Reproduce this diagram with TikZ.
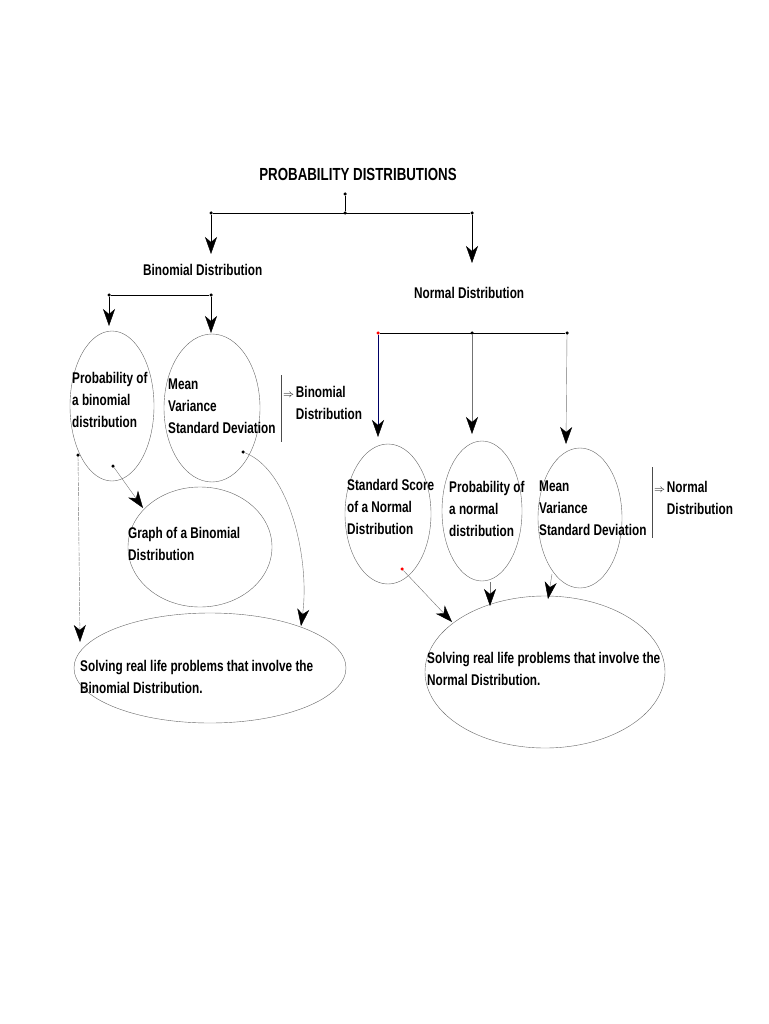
\documentclass[tikz,border=0pt]{standalone}
\usepackage{fontspec}
\setmainfont{Liberation Sans}[FakeStretch=0.76]
\usetikzlibrary{arrows.meta}
\begin{document}
\begin{tikzpicture}[x=1pt,y=-1pt,
  txt/.style={font=\bfseries\fontsize{15.5}{22}\selectfont,align=left,anchor=west,inner sep=0pt},
  arr/.style={-{Stealth[length=17pt,width=12pt,inset=5pt,color=black]}},
  thinarr/.style={draw=black!55,-{Stealth[length=17pt,width=12pt,inset=5pt,color=black]}},
  dot/.style={circle,fill=black,inner sep=0pt,minimum size=3.5pt},
  rdot/.style={circle,fill=red,inner sep=0pt,minimum size=3.5pt}]
\useasboundingbox (0,0) rectangle (768,1024);
\node[font=\bfseries\fontsize{17.5}{20}\selectfont] (title) at (358,174) {PROBABILITY DISTRIBUTIONS};
\node[dot] (t0) at (345,194) {}; \node[dot] (t1) at (345,213) {};
\node[dot] (tl) at (211,213) {}; \node[dot] (tr) at (472,213) {};
\draw (t0)--(t1); \draw (tl)--(tr);
\coordinate (bd_a) at (211,254); \coordinate (nd_a) at (472,263);
\draw[arr] (tl)--(bd_a); \draw[arr] (tr)--(nd_a);
\node[txt] (bd) at (143,270) {Binomial Distribution};
\node[txt] (nd) at (414,293) {Normal Distribution};
% binomial branch
\node[dot] (bl) at (109,295) {}; \node[dot] (br) at (211,295) {};
\draw (bl)--(br);
\coordinate (pb_a) at (109,326); \coordinate (mb_a) at (211,333);
\draw[arr] (bl)--(pb_a); \draw[arr] (br)--(mb_a);
\draw[black!60] (112,406) ellipse (42 and 75);
\node[txt] (pb) at (72,400) {Probability of\\a binomial\\distribution};
\draw[black!60] (212,408) ellipse (48 and 74);
\node[txt] (mb) at (168,406) {Mean\\Variance\\Standard Deviation};
\draw[black!70] (281,375)--(281,442);
\node[txt] (bdx) at (283,403) {\fontsize{11}{12}\selectfont$\Rightarrow$\,\fontsize{15.5}{22}\selectfont\parbox[t]{70pt}{Binomial\\Distribution}};
\draw[black!60] (200,547) ellipse (72 and 60);
\node[txt] (gb) at (128,544) {Graph of a Binomial\\Distribution};
\draw[black!60] (210,668) ellipse (136 and 55);
\node[txt] (sb) at (80,677) {Solving real life problems that involve the\\Binomial Distribution.};
\node[dot] (p1) at (78,455) {}; \node[dot] (p2) at (113,466) {}; \node[dot] (m1) at (243,452) {};
\coordinate (sb_a) at (80,642); \coordinate (gb_a) at (143,508); \coordinate (sb_b) at (301,626);
\draw[thinarr,dash pattern=on 4pt off 1pt] (p1)--(sb_a);
\draw[thinarr] (p2)--(gb_a);
\draw[thinarr] (m1) .. controls (290,470) and (310,560) .. (sb_b);
% normal branch
\node[rdot] (nl) at (378,333) {}; \node[dot] (nm) at (472,333) {}; \node[dot] (nr) at (567,333) {};
\draw (nl)--(nr);
\coordinate (ss_a) at (378,437); \coordinate (pn_a) at (472,434); \coordinate (mn_a) at (566,444);
\draw[arr,draw=black!60!blue] (nl)--(ss_a);
\draw[thinarr] (nm)--(pn_a); \draw[thinarr] (nr)--(mn_a);
\draw[black!60] (388,514) ellipse (43 and 70);
\node[txt] (ss) at (347,507) {Standard Score\\of a Normal\\Distribution};
\draw[black!60] (482,511) ellipse (40 and 70);
\node[txt] (pn) at (449,509) {Probability of\\a normal\\distribution};
\draw[black!60] (580,518) ellipse (42 and 70);
\node[txt] (mn) at (539,508) {Mean\\Variance\\Standard Deviation};
\draw[black!70] (652,467)--(652,538);
\node[txt] (ndx) at (654,498) {\fontsize{11}{12}\selectfont$\Rightarrow$\,\fontsize{15.5}{22}\selectfont\parbox[t]{70pt}{Normal\\Distribution}};
\draw[black!60] (545,672) ellipse (120 and 76);
\node[txt] (sn) at (427,669) {Solving real life problems that involve the\\Normal Distribution.};
\node[rdot] (s1) at (402,569) {};
\coordinate (sn_a) at (452,622); \coordinate (p3) at (490,582); \coordinate (sn_b) at (490,606);
\coordinate (m3) at (552,574); \coordinate (sn_c) at (548,599);
\draw[thinarr] (s1)--(sn_a); \draw[thinarr] (p3)--(sn_b); \draw[thinarr] (m3)--(sn_c);
\end{tikzpicture}
\end{document}
